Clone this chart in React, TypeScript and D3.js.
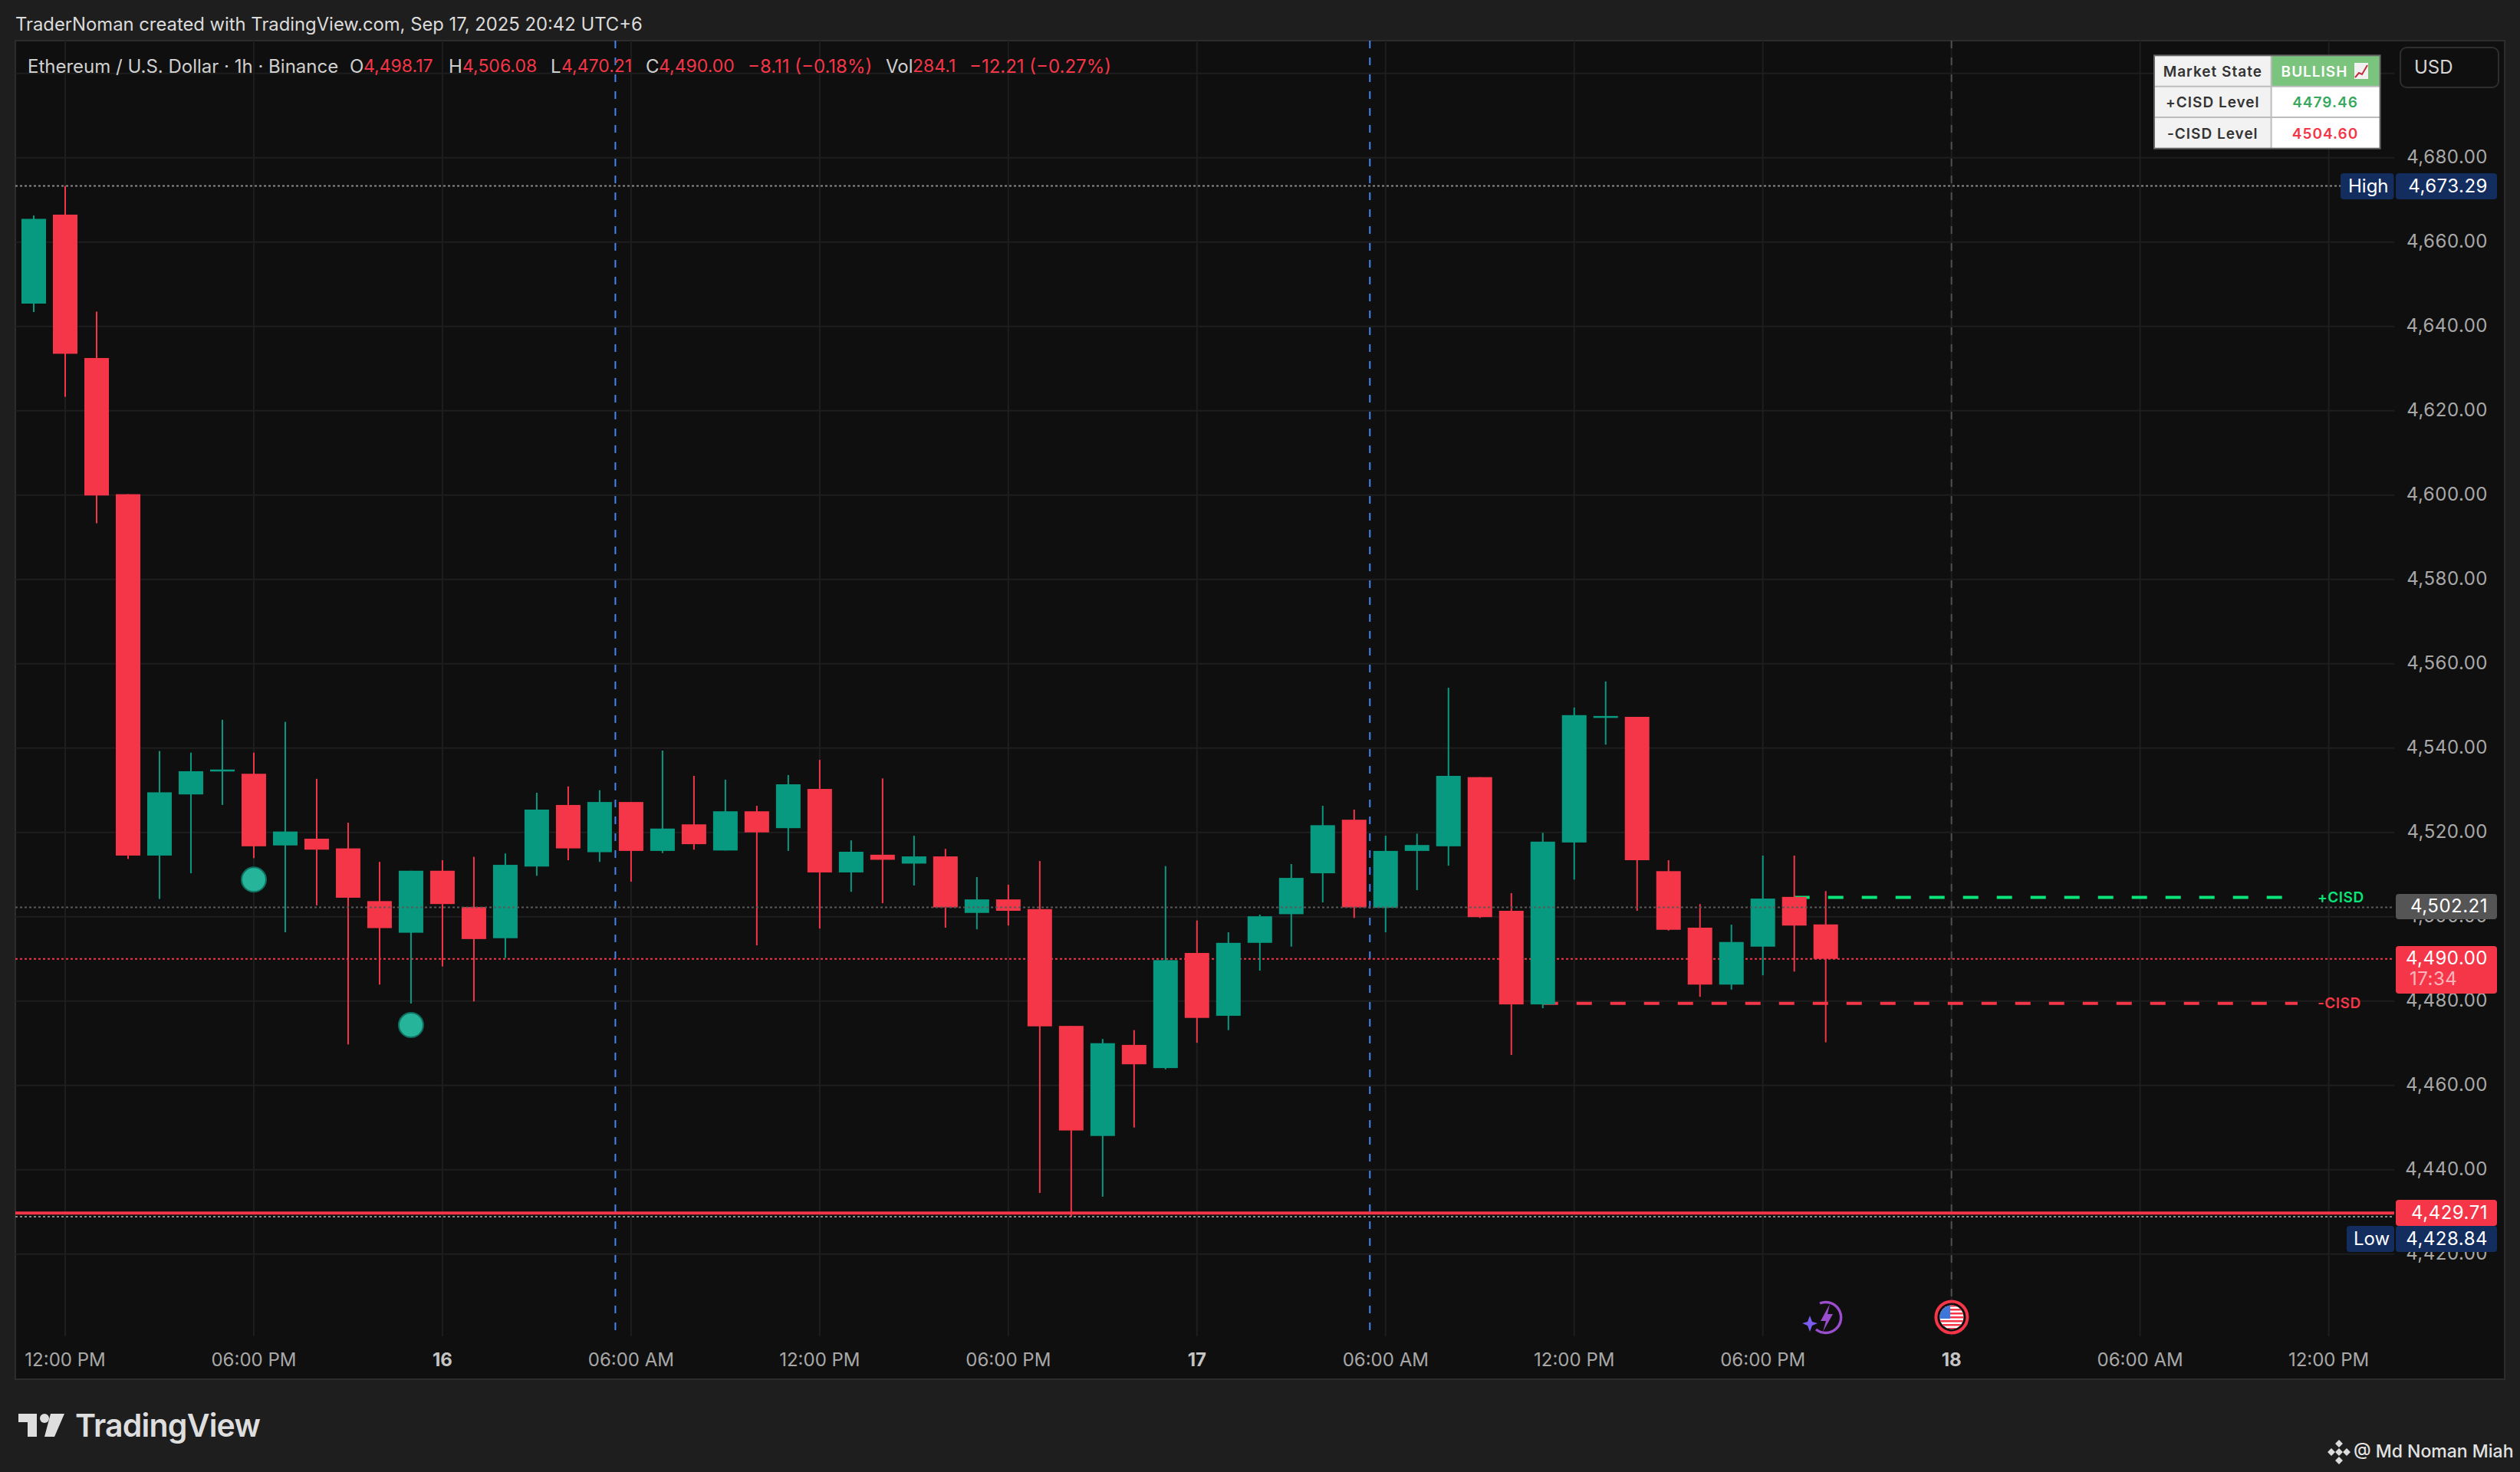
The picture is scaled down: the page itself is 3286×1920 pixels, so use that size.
import React from "react";
import * as d3 from "d3";

// hourly candles, first bar is Sep 15 11:00
const opens = [4645.4, 4666.5, 4632.5, 4600.2, 4514.5, 4529.0, 4534.5, 4533.9, 4516.9, 4518.5, 4516.2, 4503.7, 4496.2, 4510.9, 4502.3, 4494.9, 4511.9, 4526.5, 4515.3, 4527.2, 4515.6, 4521.9, 4515.7, 4525.0, 4521.0, 4530.3, 4510.5, 4514.7, 4512.6, 4514.3, 4500.9, 4504.1, 4501.8, 4474.1, 4448.0, 4469.6, 4464.1, 4491.4, 4476.5, 4493.8, 4500.6, 4510.3, 4523.0, 4502.1, 4515.6, 4516.7, 4533.1, 4501.4, 4479.2, 4517.6, 4547.2, 4547.4, 4510.8, 4497.4, 4483.9, 4492.9, 4504.7, 4498.17];
const highs = [4666.3, 4673.29, 4643.5, 4600.2, 4539.3, 4538.9, 4546.7, 4538.9, 4546.2, 4532.7, 4522.3, 4513.0, 4510.9, 4513.4, 4514.2, 4515.0, 4529.4, 4530.9, 4530.0, 4527.2, 4539.4, 4533.4, 4532.5, 4526.3, 4533.6, 4537.2, 4518.1, 4532.8, 4519.2, 4516.1, 4509.4, 4507.6, 4513.2, 4474.1, 4471.0, 4473.1, 4512.0, 4499.1, 4496.3, 4500.5, 4512.5, 4526.3, 4525.4, 4519.2, 4519.7, 4554.3, 4533.1, 4505.6, 4519.9, 4549.6, 4555.8, 4547.4, 4513.4, 4503.0, 4498.1, 4514.5, 4514.5, 4506.08];
const lows = [4643.4, 4623.3, 4593.3, 4513.7, 4504.2, 4510.3, 4526.5, 4513.9, 4496.3, 4502.7, 4469.7, 4483.9, 4479.4, 4488.2, 4479.9, 4490.2, 4509.7, 4513.4, 4513.0, 4508.3, 4515.1, 4515.9, 4515.7, 4493.2, 4515.6, 4497.2, 4505.9, 4503.2, 4507.4, 4497.4, 4497.0, 4497.9, 4434.5, 4428.84, 4433.6, 4450.0, 4463.8, 4470.1, 4473.1, 4487.2, 4492.9, 4503.4, 4499.7, 4496.3, 4506.3, 4512.1, 4499.7, 4467.2, 4478.3, 4508.8, 4540.8, 4501.4, 4496.7, 4481.0, 4482.7, 4486.1, 4487.0, 4470.21];
const closes = [4665.5, 4633.5, 4599.9, 4514.5, 4529.5, 4534.5, 4534.9, 4516.7, 4520.2, 4515.9, 4504.5, 4497.3, 4510.9, 4503.0, 4494.7, 4512.3, 4525.4, 4516.2, 4527.2, 4515.6, 4520.9, 4517.2, 4525.0, 4520.0, 4531.4, 4510.5, 4515.4, 4513.5, 4514.3, 4502.2, 4504.1, 4501.4, 4474.0, 4449.3, 4470.0, 4465.0, 4489.7, 4476.0, 4493.8, 4500.1, 4509.2, 4521.7, 4502.2, 4515.6, 4517.0, 4533.4, 4499.9, 4479.2, 4517.8, 4547.8, 4547.6, 4513.4, 4496.9, 4483.9, 4494.0, 4504.3, 4497.9, 4490.0];

const priceTicks = [4680, 4660, 4640, 4620, 4600, 4580, 4560, 4540, 4520, 4500, 4480, 4460, 4440, 4420];
const gridPrices = [4700, ...priceTicks];
const timeTicks = [
  { bar: 1, label: "12:00 PM" },
  { bar: 7, label: "06:00 PM" },
  { bar: 13, label: "16", day: true },
  { bar: 19, label: "06:00 AM" },
  { bar: 25, label: "12:00 PM" },
  { bar: 31, label: "06:00 PM" },
  { bar: 37, label: "17", day: true },
  { bar: 43, label: "06:00 AM" },
  { bar: 49, label: "12:00 PM" },
  { bar: 55, label: "06:00 PM" },
  { bar: 61, label: "18", day: true },
  { bar: 67, label: "06:00 AM" },
  { bar: 73, label: "12:00 PM" },
];
const sessionBars = [18.5, 42.5];
const signalDots = [
  { bar: 7, price: 4508.8 },
  { bar: 12, price: 4474.3 },
];
const highPrice = 4673.29;
const lowPrice = 4428.84;
const lastPrice = 4490.0;
const prevPrice = 4502.21;
const supportPrice = 4429.71;
const plusCisd = 4504.6;
const minusCisd = 4479.46;

const RED = "#f43648";
const GREEN = "#089981";
const NAVY = "#132d5e";
const FONT = "Inter, sans-serif";

const paneLeft = 20;
const paneTop = 53;
const paneRight = 3266;
const paneBottom = 1799;
const plotRight = 3122;
const plotBottom = 1743;

const x = d3.scaleLinear().domain([1, 73]).range([85, 3036.6]);
const y = d3.scaleLinear().domain([4680, 4420]).range([205.7, 1635.7]);
const fmt = d3.format(",.2f");

const PriceBox = ({ top, bottom, fill, text }: { top: number; bottom: number; fill: string; text: string }) => (
  <g>
    <rect x={3124} y={top} width={132} height={bottom - top} rx={4} fill={fill} />
    <text x={3244} y={(top + bottom) / 2 + 1} textAnchor="end" dominantBaseline="middle" fontSize={24} letterSpacing={0.5} fill="#fff">
      {text}
    </text>
  </g>
);

const Candles = () => (
  <g>
    {opens.map((o, i) => {
      const c = closes[i];
      const color = c >= o ? GREEN : RED;
      const top = y(Math.max(o, c));
      const h = Math.max(2.5, y(Math.min(o, c)) - top);
      return (
        <g key={i}>
          <rect x={x(i) - 1} y={y(highs[i])} width={2} height={y(lows[i]) - y(highs[i])} fill={color} />
          <rect x={x(i) - 16} y={top} width={32} height={h} fill={color} />
        </g>
      );
    })}
  </g>
);

const InfoTable = () => {
  const cols = [2809, 2961.6, 3103.6];
  const rows = [72.3, 112.7, 153, 193.7];
  const labels = ["Market State", "+CISD Level", "-CISD Level"];
  const cellProps = { fontSize: 19, fontWeight: 600, letterSpacing: 1, textAnchor: "middle" as const, dominantBaseline: "middle" as const };
  return (
    <g>
      <rect x={cols[0]} y={rows[0]} width={cols[1] - cols[0]} height={rows[3] - rows[0]} fill="#f2f2f2" />
      <rect x={cols[1]} y={rows[0]} width={cols[2] - cols[1]} height={rows[3] - rows[0]} fill="#ffffff" />
      <rect x={cols[1]} y={rows[0]} width={cols[2] - cols[1]} height={rows[1] - rows[0]} fill="#7bc47e" />
      <line x1={cols[0]} x2={cols[2]} y1={rows[1]} y2={rows[1]} stroke="#bcbcbc" strokeWidth={2} />
      <line x1={cols[0]} x2={cols[2]} y1={rows[2]} y2={rows[2]} stroke="#bcbcbc" strokeWidth={2} />
      <line x1={cols[1]} x2={cols[1]} y1={rows[0]} y2={rows[3]} stroke="#bcbcbc" strokeWidth={2} />
      <rect x={cols[0]} y={rows[0]} width={cols[2] - cols[0]} height={rows[3] - rows[0]} fill="none" stroke="#666" strokeWidth={2} />
      {labels.map((t, i) => (
        <text key={t} x={(cols[0] + cols[1]) / 2} y={(rows[i] + rows[i + 1]) / 2 + 2} fill="#333" {...cellProps}>
          {t}
        </text>
      ))}
      <text x={3018} y={(rows[0] + rows[1]) / 2 + 2} fill="#fff" {...cellProps}>BULLISH</text>
      <g transform="translate(3070,82)">
        <rect width={18} height={21} fill="#f1f1f1" />
        <path d="M1,19 L6,13 L10,15 L17,3" fill="none" stroke="#c0303c" strokeWidth={2} />
      </g>
      <text x={3032} y={(rows[1] + rows[2]) / 2 + 2} fill="#38a85f" {...cellProps}>4479.46</text>
      <text x={3032} y={(rows[2] + rows[3]) / 2 + 2} fill={RED} {...cellProps}>4504.60</text>
    </g>
  );
};

const Logo = () => (
  <g fill="#dedede">
    <path d="M24,1844 H48 V1874 H36 V1855 H24 Z" />
    <circle cx={58} cy={1850} r={6} />
    <path d="M66,1844 H84 L71,1874 H58 Z" />
    <text x={98} y={1874} fontSize={41} fontWeight={600} letterSpacing={-0.8}>TradingView</text>
  </g>
);

const BinanceMark = () => (
  <g transform="translate(3050,1894)" fill="#dcdcdc">
    {[[0, -11], [-10, 0], [10, 0], [0, 11], [0, 0]].map(([dx, dy], i) => (
      <rect key={i} x={dx - 3.5} y={dy - 3.5} width={7} height={7} transform={`rotate(45 ${dx} ${dy})`} />
    ))}
  </g>
);

const EventIcons = () => {
  const stripes = d3.range(7);
  return (
    <g>
      <g fill="none" stroke="#9a4dcc" strokeWidth={3.5}>
        <path d="M2373,1700 A20,20 0 1 1 2368,1734" />
      </g>
      <path d="M2386,1701 L2374,1723 L2381,1723 L2377,1737 L2390,1714 L2383,1714 Z" fill="#9a4dcc" />
      <path d="M2360,1716 L2363,1724 L2370,1726 L2363,1729 L2360,1737 L2357,1729 L2350,1726 L2357,1724 Z" fill="#7a5cf0" />
      <circle cx={2544.9} cy={1718} r={20.5} fill="#0f0f0f" stroke={RED} strokeWidth={4} />
      <clipPath id="flag-clip"><circle cx={2544.9} cy={1718} r={15.5} /></clipPath>
      <g clipPath="url(#flag-clip)">
        <rect x={2529} y={1702} width={32} height={32} fill="#fff" />
        {stripes.map(s => (
          <rect key={s} x={2529} y={1702 + s * 5} width={32} height={2.5} fill={RED} />
        ))}
        <rect x={2529} y={1702} width={14} height={18} fill="#3d77d9" />
      </g>
    </g>
  );
};

export default function App() {
  const gridStroke = "#1e1e1e";
  const legendY = 88;
  return (
    <svg
      width={3286}
      height={1920}
      viewBox="0 0 3286 1920"
      style={{ position: "absolute", left: 0, top: 0, display: "block" }}
      fontFamily={FONT}
    >
      <rect width={3286} height={1920} fill="#1e1e1e" />
      <rect x={paneLeft} y={paneTop} width={paneRight - paneLeft} height={paneBottom - paneTop} fill="#0f0f0f" stroke="#2c2c2c" strokeWidth={2} />

      <text x={20} y={33} dominantBaseline="middle" fontSize={23.8} fill="#dbdbdb">
        TraderNoman created with TradingView.com, Sep 17, 2025 20:42 UTC+6
      </text>

      {/* grid */}
      {gridPrices.map(p => (
        <line key={p} x1={paneLeft} x2={plotRight} y1={y(p)} y2={y(p)} stroke={gridStroke} strokeWidth={2} />
      ))}
      {timeTicks.map(t => (
        <line key={t.bar} x1={x(t.bar)} x2={x(t.bar)} y1={paneTop} y2={plotBottom} stroke={gridStroke} strokeWidth={2} />
      ))}

      {/* session and event verticals */}
      {sessionBars.map(b => (
        <line key={b} x1={x(b)} x2={x(b)} y1={paneTop} y2={plotBottom} stroke="#4285f4" strokeWidth={2} strokeDasharray="10 12" />
      ))}
      <line x1={x(61)} x2={x(61)} y1={paneTop} y2={1692} stroke="#4f4f4f" strokeWidth={2} strokeDasharray="10 12" />

      {/* levels under the candles */}
      <line x1={paneLeft} x2={plotRight} y1={y(lastPrice)} y2={y(lastPrice)} stroke={RED} strokeWidth={2} strokeDasharray="3 3" />
      <line x1={x(56)} x2={2976} y1={y(plusCisd)} y2={y(plusCisd)} stroke="#0ae57a" strokeWidth={4} strokeDasharray="20 24" />
      <line x1={x(48)} x2={2996} y1={y(minusCisd)} y2={y(minusCisd)} stroke={RED} strokeWidth={4} strokeDasharray="20 24" />

      <Candles />

      {signalDots.map(d => (
        <circle key={d.bar} cx={x(d.bar)} cy={y(d.price)} r={16} fill="#26b59a" stroke="#0f6f5f" strokeWidth={2} />
      ))}

      {/* levels over the candles */}
      <line x1={paneLeft} x2={plotRight} y1={y(prevPrice)} y2={y(prevPrice)} stroke="#5a5a5a" strokeWidth={2} strokeDasharray="3 3" />
      <line x1={paneLeft} x2={3052} y1={y(highPrice)} y2={y(highPrice)} stroke="#8a8a8a" strokeWidth={2} strokeDasharray="3 3" />
      <line x1={paneLeft} x2={plotRight} y1={y(lowPrice)} y2={y(lowPrice)} stroke="#8a8a8a" strokeWidth={2} strokeDasharray="3 3" />
      <line x1={paneLeft} x2={plotRight} y1={y(supportPrice)} y2={y(supportPrice)} stroke={RED} strokeWidth={4} />

      <text x={3022} y={1172} dominantBaseline="middle" fontSize={19} fontWeight={600} fill="#0ae57a" letterSpacing={0.5}>+CISD</text>
      <text x={3022} y={1310} dominantBaseline="middle" fontSize={19} fontWeight={600} fill={RED} letterSpacing={0.5}>-CISD</text>

      {/* legend */}
      <g fontSize={24} dominantBaseline="middle">
        <text x={36} y={legendY} fill="#cfcfcf">Ethereum / U.S. Dollar · 1h · Binance</text>
        <text x={456} y={legendY} fill="#cfcfcf">O</text>
        <text x={474} y={legendY} fill={RED} fontSize={23}>4,498.17</text>
        <text x={585} y={legendY} fill="#cfcfcf">H</text>
        <text x={603} y={legendY} fill={RED} fontSize={23}>4,506.08</text>
        <text x={718} y={legendY} fill="#cfcfcf">L</text>
        <text x={732} y={legendY} fill={RED} fontSize={23}>4,470.21</text>
        <text x={842} y={legendY} fill="#cfcfcf">C</text>
        <text x={859} y={legendY} fill={RED} fontSize={23}>4,490.00</text>
        <text x={975} y={legendY} fill={RED}>−8.11 (−0.18%)</text>
        <text x={1155} y={legendY} fill="#cfcfcf">Vol</text>
        <text x={1190} y={legendY} fill={RED} fontSize={23}>284.1</text>
        <text x={1264} y={legendY} fill={RED}>−12.21 (−0.27%)</text>
      </g>

      <InfoTable />

      {/* price axis */}
      {priceTicks.map(p => (
        <text key={p} x={3244} y={y(p) + 1} textAnchor="end" dominantBaseline="middle" fontSize={24} letterSpacing={0.5} fill="#a8a8a8">
          {fmt(p)}
        </text>
      ))}
      <rect x={3130} y={62} width={128} height={52} rx={8} fill="#0f0f0f" stroke="#2e2e2e" strokeWidth={2} />
      <text x={3148} y={89} dominantBaseline="middle" fontSize={24} fill="#d6d6d6">USD</text>

      <rect x={3052} y={226} width={69.5} height={34} rx={4} fill={NAVY} />
      <text x={3062} y={244} dominantBaseline="middle" fontSize={24} fill="#fff">High</text>
      <PriceBox top={226} bottom={260} fill={NAVY} text={fmt(highPrice)} />
      <PriceBox top={1166} bottom={1199} fill="#555" text={fmt(prevPrice)} />

      <rect x={3124} y={1234} width={132} height={62} rx={4} fill={RED} />
      <text x={3244} y={1251} textAnchor="end" dominantBaseline="middle" fontSize={24} letterSpacing={0.5} fill="#fff">{fmt(lastPrice)}</text>
      <text x={3142} y={1278} dominantBaseline="middle" fontSize={24} letterSpacing={0.5} fill="#ffffff" fillOpacity={0.65}>17:34</text>

      <PriceBox top={1565} bottom={1599} fill={RED} text={fmt(supportPrice)} />
      <rect x={3060} y={1599} width={62} height={34} rx={4} fill={NAVY} />
      <text x={3069} y={1617} dominantBaseline="middle" fontSize={24} fill="#fff">Low</text>
      <PriceBox top={1599} bottom={1633} fill={NAVY} text={fmt(lowPrice)} />

      {/* time axis */}
      {timeTicks.map(t => (
        <text
          key={t.bar}
          x={x(t.bar)}
          y={1775}
          textAnchor="middle"
          dominantBaseline="middle"
          fontSize={24}
          fontWeight={t.day ? 700 : 400}
          fill={t.day ? "#c4c4c4" : "#a8a8a8"}
        >
          {t.label}
        </text>
      ))}

      <EventIcons />
      <Logo />
      <BinanceMark />
      <text x={3069} y={1895} dominantBaseline="middle" fontSize={23} fontWeight={500} fill="#e2e2e2">@ Md Noman Miah</text>
    </svg>
  );
}
